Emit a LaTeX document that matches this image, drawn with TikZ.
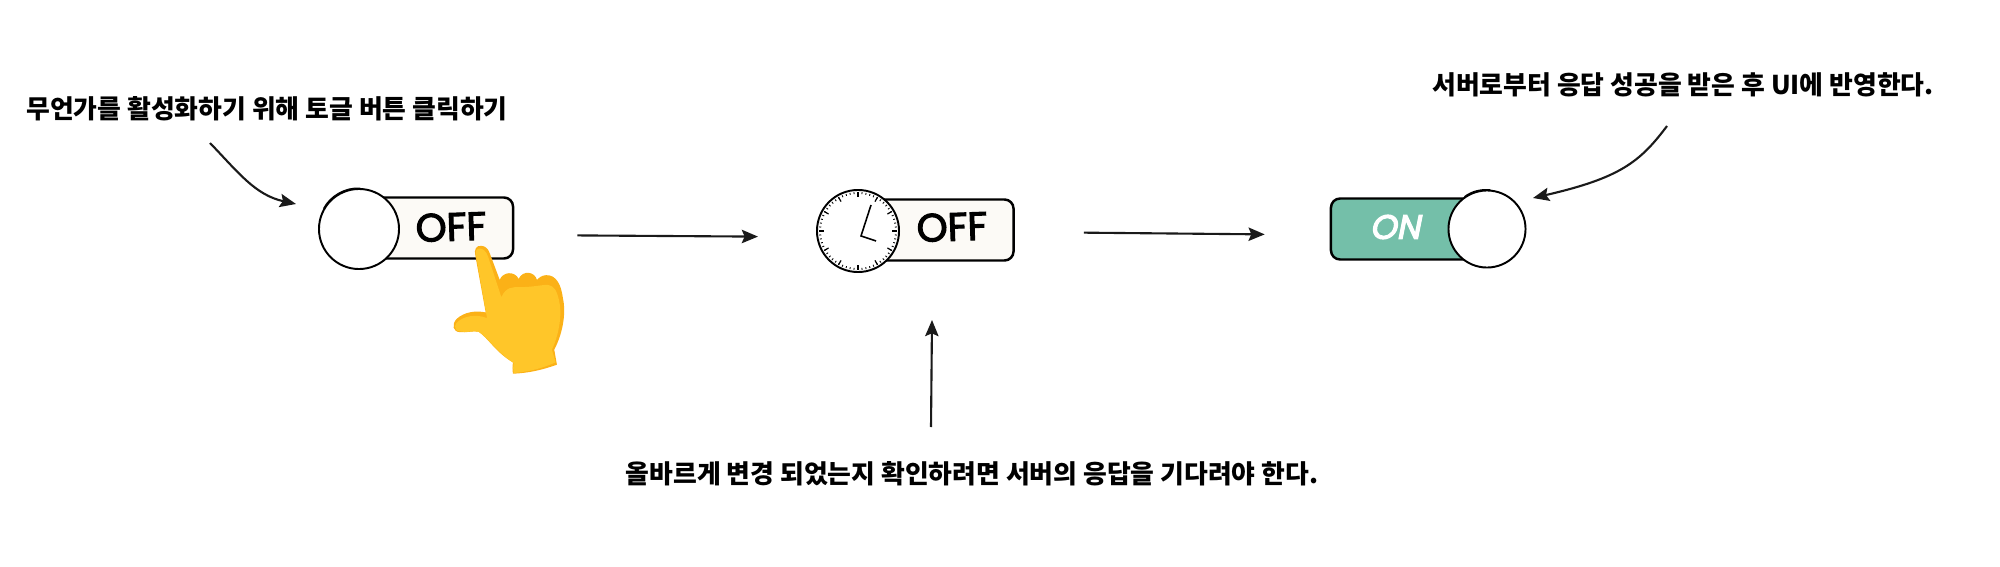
\documentclass[tikz,border=0pt]{standalone}
\usepackage{fontspec}
\usetikzlibrary{arrows.meta}
\setmainfont{Noto Sans CJK KR}
\newfontfamily\toggleFont{Poppins}[FakeBold=3]
\newfontfamily\toggleSlant{Poppins}[FakeSlant=0.2,FakeBold=3.5]
\definecolor{TrackOff}{HTML}{FCFAF6}
\definecolor{TrackOn}{HTML}{74BFA9}
\definecolor{HandMain}{HTML}{FFC629}
\definecolor{HandDark}{HTML}{FBB117}
\definecolor{InkLine}{HTML}{1A1A1A}
\tikzset{
  caption/.style={font=\fontsize{7.35}{8}\selectfont\bfseries,text=black,inner sep=0pt},
  track/.style={draw=black,line width=0.7pt,rounded corners=2.6pt,inner sep=0pt,minimum height=0.61cm},
  knob/.style={circle,draw=black,line width=0.55pt,fill=white,inner sep=0pt},
  toggletext/.style={inner sep=0pt,rotate=2,font=\fontsize{11.2}{11}\toggleFont},
  flow/.style={draw=InkLine,line width=0.6pt,-{Stealth[length=4.6pt,width=3.8pt,inset=0.8pt]}}
}
\begin{document}
\begin{tikzpicture}[x=0.01cm,y=-0.01cm]
  \useasboundingbox (0,0) rectangle (2000,567);
  % captions
  \node[caption] (textClick) at (267,109) {무언가를 활성화하기 위해 토글 버튼 클릭하기};
  \node[caption] (textWait) at (972,474) {올바르게 변경 되었는지 확인하려면 서버의 응답을 기다려야 한다.};
  \node[caption] (textDone) at (1683,85) {서버로부터 응답 성공을 받은 후 UI에 반영한다.};
  % first switch
  \node[track,fill=TrackOff,minimum width=1.54cm] (trackOff) at (436,228) {};
  \node[knob,minimum size=0.8cm] (knobOff) at (359,229) {};
  \draw[line width=0.3pt] (knobOff.150) .. controls (330,196) and (345,187) .. (knobOff.88);
  \node[toggletext] (labelOff) at (451,227) {OFF};
  % second switch
  \node[track,fill=TrackOff,minimum width=1.55cm] (trackWait) at (936,230) {};
  \node[knob,minimum size=0.82cm] (clockFace) at (858,231) {};
  \node[toggletext] (labelWait) at (952,227) {OFF};
  \foreach \a in {0,6,...,354}
    \draw[line width=0.25pt] (clockFace.center) ++(\a:39) -- ++(\a:-2);
  \foreach \a in {0,30,...,330}
    \draw[line width=0.35pt] (clockFace.center) ++(\a:39) -- ++(\a:-5);
  \coordinate (clockPin) at (861,236);
  \coordinate (hourTip) at (876,241);
  \coordinate (minuteTip) at (871,205);
  \draw[line width=0.45pt] (minuteTip) -- (clockPin) -- (hourTip);
  % third switch
  \node[track,fill=TrackOn,minimum width=1.56cm] (trackOn) at (1409,229) {};
  \node[knob,minimum size=0.77cm] (knobOn) at (1487,229) {};
  \draw[line width=0.3pt] (knobOn.125) .. controls (1472,191) and (1480,189) .. (knobOn.85);
  \node[toggletext,rotate=-2,text=white,font=\fontsize{9.6}{10}\toggleSlant] (labelOn) at (1395,227) {ON};
  % hand
  \begin{scope}[shift={(300,170)},x=0.00333cm,y=-0.00333cm]
    \fill[HandDark] (545,228) .. controls (530,226) and (522,238) .. (527,258)
      -- (558,428) .. controls (530,422) and (495,425) .. (470,448)
      .. controls (455,465) and (460,487) .. (480,487)
      .. controls (500,490) and (520,482) .. (537,486)
      .. controls (565,505) and (590,550) .. (640,578)
      .. controls (638,590) and (638,600) .. (640,612)
      .. controls (690,610) and (730,600) .. (772,585)
      -- (764,540)
      .. controls (790,490) and (800,430) .. (790,385)
      .. controls (785,345) and (770,315) .. (740,316)
      .. controls (725,316) and (718,325) .. (712,330)
      .. controls (705,305) and (670,300) .. (657,327)
      .. controls (645,303) and (610,305) .. (600,330)
      -- (570,250) .. controls (565,235) and (555,228) .. (545,228) -- cycle;
    \fill[HandMain] (540,236) .. controls (530,236) and (525,245) .. (530,262)
      -- (562,445) .. controls (530,432) and (490,438) .. (470,460)
      .. controls (460,472) and (470,487) .. (482,485)
      .. controls (500,490) and (520,482) .. (537,486)
      .. controls (565,505) and (595,550) .. (642,580)
      .. controls (640,590) and (640,600) .. (642,610)
      .. controls (690,606) and (730,595) .. (768,578)
      -- (757,540)
      .. controls (780,490) and (788,430) .. (778,390)
      .. controls (770,360) and (765,350) .. (745,345)
      .. controls (725,345) and (700,352) .. (660,352)
      .. controls (640,352) and (620,350) .. (605,382)
      -- (565,260) .. controls (560,245) and (550,236) .. (540,236) -- cycle;
  \end{scope}
  % arrows
  \draw[flow] ([shift={(-57,34)}]textClick.center) .. controls (238,172) and (255,195) .. ([shift={(-63,-25)}]knobOff.center);
  \draw[flow,shorten <=63pt*0.2845,shorten >=58pt*0.2845] ([shift={(0,7)}]trackOff.east) -- ([shift={(0,6)}]clockFace.west);
  \draw[flow,shorten <=69pt*0.2845,shorten >=65pt*0.2845] ([shift={(0,2)}]trackWait.east) -- ([shift={(0,6)}]trackOn.west);
  \draw[flow] ([shift={(-41,-47)}]textWait.center) -- ([shift={(74,89)}]clockFace.center);
  \draw[flow] ([shift={(-16,41)}]textDone.center) .. controls (1640,162) and (1620,178) .. ([shift={(46,-31)}]knobOn.center);
\end{tikzpicture}
\end{document}
